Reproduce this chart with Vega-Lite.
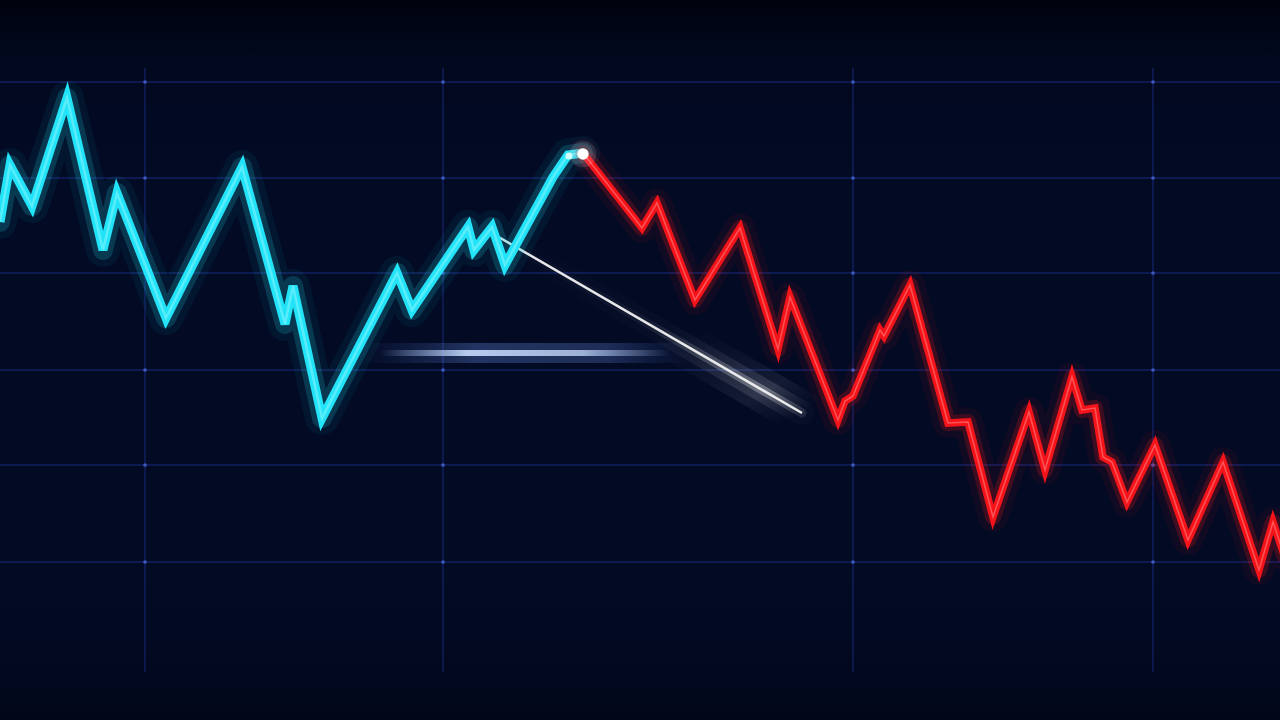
{
  "$schema": "https://vega.github.io/schema/vega-lite/v6.json",
  "width": 1280,
  "height": 720,
  "padding": 0,
  "autosize": {"type": "none"},
  "background": "#020a24",
  "config": {"view": {"stroke": null}},
  "datasets": {
    "cyan": [
      {"x": 0, "y": 222}, {"x": 10, "y": 165}, {"x": 32, "y": 206}, {"x": 67, "y": 98},
      {"x": 103, "y": 250}, {"x": 117, "y": 193}, {"x": 166, "y": 318}, {"x": 242, "y": 167},
      {"x": 285, "y": 324}, {"x": 293, "y": 286}, {"x": 322, "y": 418}, {"x": 397, "y": 273},
      {"x": 412, "y": 310}, {"x": 468, "y": 227}, {"x": 474, "y": 250}, {"x": 492, "y": 227},
      {"x": 505, "y": 265}, {"x": 553, "y": 177}, {"x": 568, "y": 155}, {"x": 583, "y": 153}
    ],
    "red": [
      {"x": 583, "y": 153}, {"x": 642, "y": 228}, {"x": 657, "y": 203}, {"x": 695, "y": 300},
      {"x": 740, "y": 228}, {"x": 778, "y": 349}, {"x": 790, "y": 297}, {"x": 838, "y": 420},
      {"x": 845, "y": 401}, {"x": 853, "y": 396}, {"x": 880, "y": 330}, {"x": 884, "y": 336},
      {"x": 910, "y": 285}, {"x": 948, "y": 423}, {"x": 968, "y": 422}, {"x": 993, "y": 517},
      {"x": 1029, "y": 412}, {"x": 1045, "y": 470}, {"x": 1072, "y": 377}, {"x": 1082, "y": 410},
      {"x": 1095, "y": 408}, {"x": 1103, "y": 457}, {"x": 1112, "y": 462}, {"x": 1127, "y": 502},
      {"x": 1155, "y": 445}, {"x": 1188, "y": 540}, {"x": 1223, "y": 462}, {"x": 1259, "y": 570},
      {"x": 1273, "y": 522}, {"x": 1284, "y": 555}
    ],
    "gridV": [{"x": 145}, {"x": 443}, {"x": 853}, {"x": 1153}],
    "gridH": [{"y": 82}, {"y": 178}, {"y": 273}, {"y": 370}, {"y": 465}, {"y": 562}],
    "nodes": [
      {"x": 145, "y": 82}, {"x": 443, "y": 82}, {"x": 853, "y": 82}, {"x": 1153, "y": 82},
      {"x": 145, "y": 178}, {"x": 443, "y": 178}, {"x": 853, "y": 178}, {"x": 1153, "y": 178},
      {"x": 145, "y": 273}, {"x": 443, "y": 273}, {"x": 853, "y": 273}, {"x": 1153, "y": 273},
      {"x": 145, "y": 370}, {"x": 443, "y": 370}, {"x": 853, "y": 370}, {"x": 1153, "y": 370},
      {"x": 145, "y": 465}, {"x": 443, "y": 465}, {"x": 853, "y": 465}, {"x": 1153, "y": 465},
      {"x": 145, "y": 562}, {"x": 443, "y": 562}, {"x": 853, "y": 562}, {"x": 1153, "y": 562}
    ],
    "beam": [{"x": 490, "y": 232}, {"x": 802, "y": 413}],
    "streak": [{"x": 360, "x2": 690, "y": 343, "y2": 363}],
    "streakCore": [{"x": 380, "x2": 670, "y": 350, "y2": 356}],
    "frame": [{"x": 0, "x2": 1280, "y": 0, "y2": 720}],
    "tip": [{"x": 583, "y": 154}],
    "tip2": [{"x": 569, "y": 156}]
  },
  "layer": [
    {
      "data": {"name": "frame"},
      "mark": {"type": "rect", "fill": {"gradient": "linear", "x1": 0, "y1": 0, "x2": 0, "y2": 1, "stops": [
        {"offset": 0, "color": "rgba(0,3,14,1)"},
        {"offset": 0.08, "color": "rgba(1,6,24,0.6)"},
        {"offset": 0.25, "color": "rgba(2,10,36,0)"},
        {"offset": 0.8, "color": "rgba(2,10,36,0)"},
        {"offset": 1, "color": "rgba(1,5,20,0.8)"}
      ]}},
      "encoding": {
        "x": {"field": "x", "type": "quantitative", "scale": {"domain": [0, 1280], "nice": false, "zero": false}, "axis": null},
        "x2": {"field": "x2"},
        "y": {"field": "y", "type": "quantitative", "scale": {"domain": [720, 0], "nice": false, "zero": false}, "axis": null},
        "y2": {"field": "y2"}
      }
    },
    {
      "data": {"name": "gridV"},
      "mark": {"type": "rule", "color": "#1b2f8a", "strokeWidth": 1.5, "opacity": 0.55},
      "encoding": {
        "x": {"field": "x", "type": "quantitative"},
        "y": {"datum": 68},
        "y2": {"datum": 672}
      }
    },
    {
      "data": {"name": "gridH"},
      "mark": {"type": "rule", "color": "#1b2f8a", "strokeWidth": 1.5, "opacity": 0.6},
      "encoding": {
        "y": {"field": "y", "type": "quantitative"},
        "x": {"datum": 0},
        "x2": {"datum": 1280}
      }
    },
    {
      "data": {"name": "nodes"},
      "mark": {"type": "circle", "color": "#4d6fe0", "size": 14, "opacity": 0.7},
      "encoding": {
        "x": {"field": "x", "type": "quantitative"},
        "y": {"field": "y", "type": "quantitative"}
      }
    },
    {
      "data": {"name": "streak"},
      "mark": {"type": "rect", "fill": {"gradient": "linear", "x1": 0, "y1": 0, "x2": 1, "y2": 0, "stops": [
        {"offset": 0, "color": "rgba(90,130,230,0)"},
        {"offset": 0.35, "color": "rgba(110,150,240,0.3)"},
        {"offset": 0.75, "color": "rgba(110,150,240,0.25)"},
        {"offset": 1, "color": "rgba(90,130,230,0)"}
      ]}},
      "encoding": {
        "x": {"field": "x", "type": "quantitative"},
        "x2": {"field": "x2"},
        "y": {"field": "y", "type": "quantitative"},
        "y2": {"field": "y2"}
      }
    },
    {
      "data": {"name": "streakCore"},
      "mark": {"type": "rect", "fill": {"gradient": "linear", "x1": 0, "y1": 0, "x2": 1, "y2": 0, "stops": [
        {"offset": 0, "color": "rgba(180,205,255,0)"},
        {"offset": 0.3, "color": "rgba(200,220,255,0.9)"},
        {"offset": 0.7, "color": "rgba(200,220,255,0.75)"},
        {"offset": 1, "color": "rgba(180,205,255,0)"}
      ]}},
      "encoding": {
        "x": {"field": "x", "type": "quantitative"},
        "x2": {"field": "x2"},
        "y": {"field": "y", "type": "quantitative"},
        "y2": {"field": "y2"}
      }
    },
    {
      "data": {"name": "beam"},
      "mark": {"type": "line", "strokeWidth": 44, "strokeCap": "round", "stroke": {"gradient": "linear", "x1": 0, "y1": 0, "x2": 1, "y2": 1, "stops": [
        {"offset": 0, "color": "rgba(255,255,255,0)"},
        {"offset": 0.6, "color": "rgba(255,255,255,0)"},
        {"offset": 0.88, "color": "rgba(255,255,255,0.07)"},
        {"offset": 1, "color": "rgba(255,255,255,0)"}
      ]}},
      "encoding": {
        "x": {"field": "x", "type": "quantitative"},
        "y": {"field": "y", "type": "quantitative"}
      }
    },
    {
      "data": {"name": "beam"},
      "mark": {"type": "line", "strokeWidth": 24, "strokeCap": "round", "stroke": {"gradient": "linear", "x1": 0, "y1": 0, "x2": 1, "y2": 1, "stops": [
        {"offset": 0, "color": "rgba(255,255,255,0)"},
        {"offset": 0.55, "color": "rgba(255,255,255,0.02)"},
        {"offset": 0.88, "color": "rgba(255,255,255,0.12)"},
        {"offset": 1, "color": "rgba(255,255,255,0.02)"}
      ]}},
      "encoding": {
        "x": {"field": "x", "type": "quantitative"},
        "y": {"field": "y", "type": "quantitative"}
      }
    },
    {
      "data": {"name": "beam"},
      "mark": {"type": "line", "strokeWidth": 9, "strokeCap": "round", "stroke": {"gradient": "linear", "x1": 0, "y1": 0, "x2": 1, "y2": 1, "stops": [
        {"offset": 0, "color": "rgba(255,255,255,0)"},
        {"offset": 0.5, "color": "rgba(255,255,255,0.05)"},
        {"offset": 0.88, "color": "rgba(255,255,255,0.3)"},
        {"offset": 1, "color": "rgba(255,255,255,0.1)"}
      ]}},
      "encoding": {
        "x": {"field": "x", "type": "quantitative"},
        "y": {"field": "y", "type": "quantitative"}
      }
    },
    {
      "data": {"name": "beam"},
      "mark": {"type": "line", "strokeWidth": 2.5, "color": "#f2f2f2", "opacity": 0.95},
      "encoding": {
        "x": {"field": "x", "type": "quantitative"},
        "y": {"field": "y", "type": "quantitative"}
      }
    },
    {
      "data": {"name": "cyan"},
      "mark": {"type": "line", "color": "#1fd8f0", "strokeWidth": 34, "opacity": 0.06, "strokeJoin": "round", "strokeCap": "round"},
      "encoding": {"x": {"field": "x", "type": "quantitative"}, "y": {"field": "y", "type": "quantitative"}}
    },
    {
      "data": {"name": "cyan"},
      "mark": {"type": "line", "color": "#1fd8f0", "strokeWidth": 20, "opacity": 0.18, "strokeJoin": "round", "strokeCap": "round"},
      "encoding": {"x": {"field": "x", "type": "quantitative"}, "y": {"field": "y", "type": "quantitative"}}
    },
    {
      "data": {"name": "cyan"},
      "mark": {"type": "line", "color": "#22e3f7", "strokeWidth": 9, "strokeJoin": "miter", "strokeMiterLimit": 4},
      "encoding": {"x": {"field": "x", "type": "quantitative"}, "y": {"field": "y", "type": "quantitative"}}
    },
    {
      "data": {"name": "cyan"},
      "mark": {"type": "line", "color": "#7ff4ff", "strokeWidth": 2.5, "opacity": 0.6, "strokeJoin": "miter"},
      "encoding": {"x": {"field": "x", "type": "quantitative"}, "y": {"field": "y", "type": "quantitative"}}
    },
    {
      "data": {"name": "red"},
      "mark": {"type": "line", "color": "#ff1010", "strokeWidth": 30, "opacity": 0.06, "strokeJoin": "round", "strokeCap": "round"},
      "encoding": {"x": {"field": "x", "type": "quantitative"}, "y": {"field": "y", "type": "quantitative"}}
    },
    {
      "data": {"name": "red"},
      "mark": {"type": "line", "color": "#ff1a1a", "strokeWidth": 16, "opacity": 0.2, "strokeJoin": "round", "strokeCap": "round"},
      "encoding": {"x": {"field": "x", "type": "quantitative"}, "y": {"field": "y", "type": "quantitative"}}
    },
    {
      "data": {"name": "red"},
      "mark": {"type": "line", "color": "#f5131a", "strokeWidth": 7.5, "strokeJoin": "miter", "strokeMiterLimit": 4},
      "encoding": {"x": {"field": "x", "type": "quantitative"}, "y": {"field": "y", "type": "quantitative"}}
    },
    {
      "data": {"name": "red"},
      "mark": {"type": "line", "color": "#ff6a6a", "strokeWidth": 1.5, "opacity": 0.75, "strokeJoin": "miter"},
      "encoding": {"x": {"field": "x", "type": "quantitative"}, "y": {"field": "y", "type": "quantitative"}}
    },
    {
      "data": {"name": "tip"},
      "mark": {"type": "circle", "color": "#ffffff", "size": 700, "opacity": 0.12},
      "encoding": {"x": {"field": "x", "type": "quantitative"}, "y": {"field": "y", "type": "quantitative"}}
    },
    {
      "data": {"name": "tip2"},
      "mark": {"type": "circle", "color": "#d8ffff", "size": 50, "opacity": 0.95},
      "encoding": {"x": {"field": "x", "type": "quantitative"}, "y": {"field": "y", "type": "quantitative"}}
    },
    {
      "data": {"name": "tip"},
      "mark": {"type": "circle", "color": "#ffffff", "size": 130, "opacity": 1},
      "encoding": {"x": {"field": "x", "type": "quantitative"}, "y": {"field": "y", "type": "quantitative"}}
    }
  ]
}
